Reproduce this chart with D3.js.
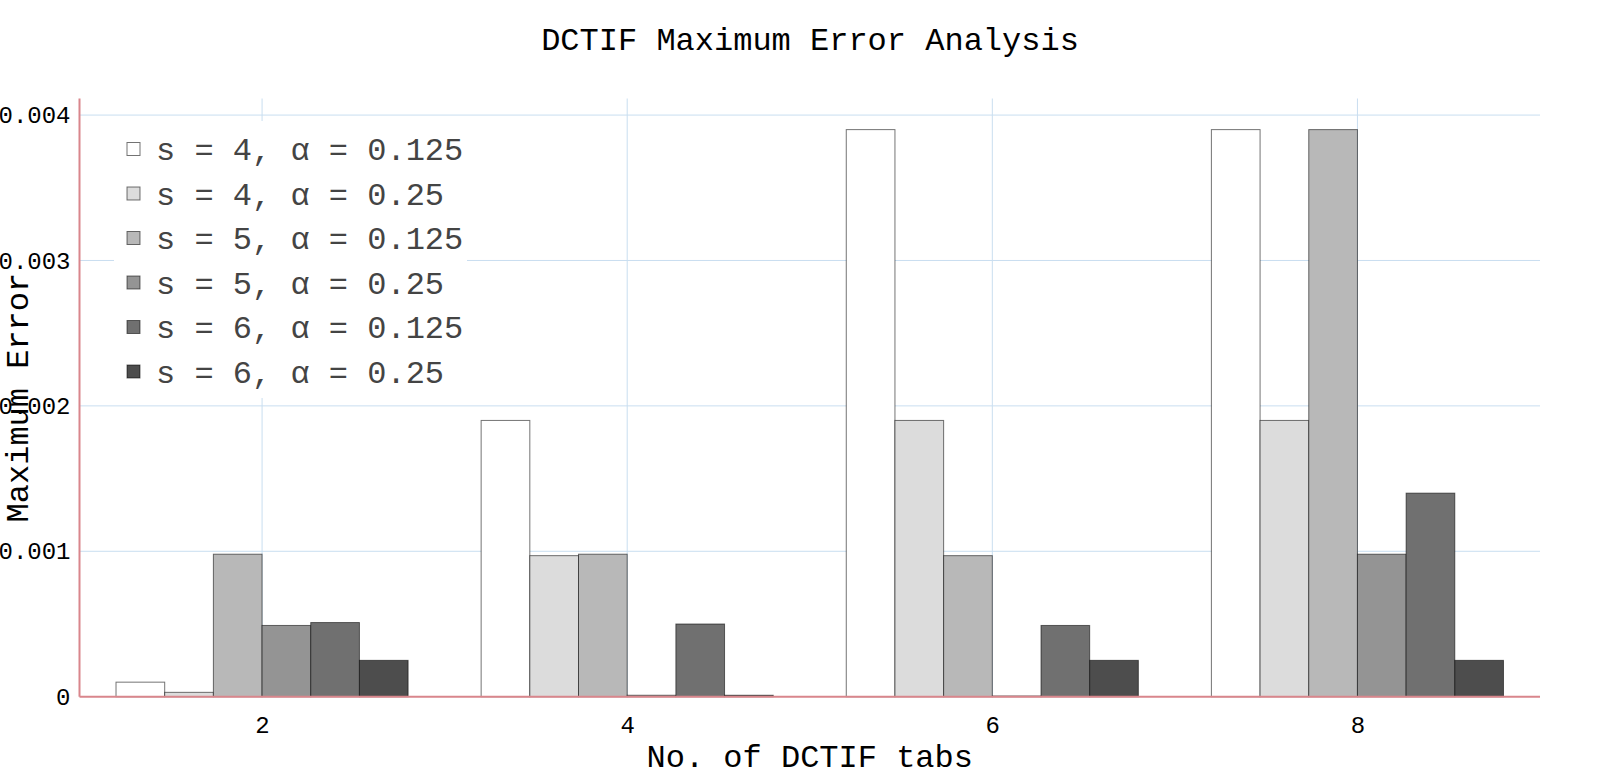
<!DOCTYPE html>
<html>
<head>
    <title>DCTIF Maximum Error Analysis</title>
    <script src="https://d3js.org/d3.v7.min.js"></script>
    <style>
        body { margin: 0; background: #fff; }
        text { font-family: "Liberation Mono", "DejaVu Sans Mono", monospace; }
    </style>
</head>
<body>
    <div id="vis"></div>
    <script>
        // data
        var tabs = [2, 4, 6, 8];
        var seriesNames = ["s = 4, \u03b1 = 0.125", "s = 4, \u03b1 = 0.25", "s = 5, \u03b1 = 0.125",
                           "s = 5, \u03b1 = 0.25", "s = 6, \u03b1 = 0.125", "s = 6, \u03b1 = 0.25"];
        var s4a125 = [0.0001, 0.0019, 0.0039, 0.0039];
        var s4a25 = [0.00003, 0.00097, 0.0019, 0.0019];
        var s5a125 = [0.00098, 0.00098, 0.00097, 0.0039];
        var s5a25 = [0.00049, 0.00001, 0.000005, 0.00098];
        var s6a125 = [0.00051, 0.0005, 0.00049, 0.0014];
        var s6a25 = [0.00025, 0.00001, 0.00025, 0.00025];
        var yTicks = [0, 0.001, 0.002, 0.003, 0.004];
        var colors = ["#ffffff", "#dcdcdc", "#b8b8b8", "#949494", "#707070", "#4d4d4d"];

        var allSeries = [s4a125, s4a25, s5a125, s5a25, s6a125, s6a25];

        var W = 1620, H = 777;
        var margin = {top: 98.5, left: 79.5, bottom: 80.3, right: 80};
        var width = W - margin.left - margin.right;
        var height = H - margin.top - margin.bottom;

        var svg = d3.select("#vis").append("svg")
            .attr("width", W)
            .attr("height", H);

        var g = svg.append("g")
            .attr("transform", "translate(" + margin.left + "," + margin.top + ")");

        var xScale = d3.scaleLinear().domain([1, 9]).range([0, width]);
        var yScale = d3.scaleLinear().domain([0, 0.004114]).range([height, 0]);

        // grid
        g.selectAll("line.hgrid")
            .data(yTicks.slice(1))
            .enter().append("line")
            .attr("x1", 0).attr("x2", width)
            .attr("y1", function(d) { return yScale(d); })
            .attr("y2", function(d) { return yScale(d); })
            .style("stroke", "#c9def0").style("stroke-width", 1);
        g.selectAll("line.vgrid")
            .data(tabs)
            .enter().append("line")
            .attr("x1", function(d) { return xScale(d); })
            .attr("x2", function(d) { return xScale(d); })
            .attr("y1", 0).attr("y2", height)
            .style("stroke", "#c9def0").style("stroke-width", 1);

        // bars
        var groupWidth = 1.6;
        var barW = groupWidth / allSeries.length;
        allSeries.forEach(function(vals, i) {
            g.selectAll("rect.s" + i)
                .data(vals)
                .enter().append("rect")
                .attr("x", function(d, j) { return xScale(tabs[j] - groupWidth / 2 + i * barW); })
                .attr("y", function(d) { return yScale(d); })
                .attr("width", xScale(1 + barW) - xScale(1))
                .attr("height", function(d) { return height - yScale(d); })
                .style("fill", colors[i])
                .style("stroke", "rgba(0,0,0,0.55)")
                .style("stroke-width", 1);
        });

        // axes
        var xAxis = g.append("g")
            .attr("transform", "translate(0," + height + ")")
            .call(d3.axisBottom(xScale).tickValues(tabs).tickSize(0).tickPadding(19));
        xAxis.select(".domain").remove();
        xAxis.selectAll("text").style("font-size", "24px").style("fill", "#000");

        var yAxis = g.append("g")
            .call(d3.axisLeft(yScale).tickValues(yTicks).tickSize(0).tickPadding(9)
                .tickFormat(function(d) { return d === 0 ? "0" : d3.format(".3f")(d); }));
        yAxis.select(".domain").remove();
        yAxis.selectAll("text").style("font-size", "24px").style("fill", "#000");

        g.append("line")
            .attr("x1", 0).attr("x2", 0).attr("y1", 0).attr("y2", height)
            .style("stroke", "#d9868c").style("stroke-width", 2);
        g.append("line")
            .attr("x1", 0).attr("x2", width).attr("y1", height).attr("y2", height)
            .style("stroke", "#d9868c").style("stroke-width", 2);

        // titles
        svg.append("text")
            .attr("x", 810).attr("y", 50)
            .attr("text-anchor", "middle")
            .style("font-size", "32px").style("fill", "#000")
            .text("DCTIF Maximum Error Analysis");
        svg.append("text")
            .attr("x", margin.left + width / 2).attr("y", 767)
            .attr("text-anchor", "middle")
            .style("font-size", "32px").style("fill", "#000")
            .text("No. of DCTIF tabs");
        svg.append("text")
            .attr("transform", "translate(28," + (margin.top + height / 2) + ")rotate(-90)")
            .attr("text-anchor", "middle")
            .style("font-size", "32px").style("fill", "#000")
            .text("Maximum Error");

        // legend
        var legend = svg.append("g").attr("transform", "translate(114,121)");
        legend.append("rect")
            .attr("width", 353).attr("height", 277)
            .style("fill", "#fff");
        var items = legend.selectAll("g.item")
            .data(seriesNames)
            .enter().append("g")
            .attr("transform", function(d, i) { return "translate(13," + (28 + i * 44.5) + ")"; });
        items.append("rect")
            .attr("x", 0).attr("y", -6.5).attr("width", 13).attr("height", 13)
            .style("fill", function(d, i) { return colors[i]; })
            .style("stroke", "rgba(0,0,0,0.55)");
        items.append("text")
            .attr("x", 29).attr("y", 11)
            .style("font-size", "32px").style("fill", "#444")
            .text(function(d) { return d; });
    </script>
</body>
</html>
